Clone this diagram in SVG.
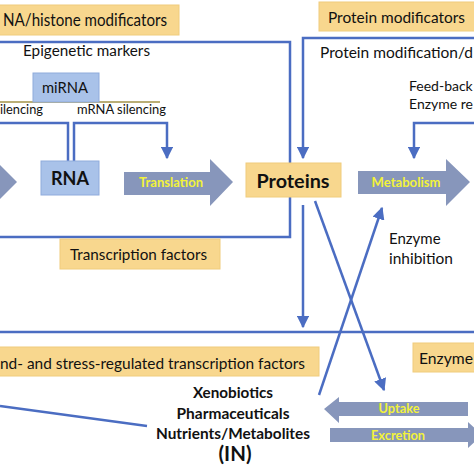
<svg xmlns="http://www.w3.org/2000/svg" width="474" height="474" viewBox="0 0 474 474">
<defs>
<style>
text{font-family:Lato,"Liberation Sans",sans-serif;fill:#111}
.ln{fill:none;stroke:#4b6dc2;stroke-width:2.5}
.yb{fill:#f8d78e;stroke:#f0cc7c;stroke-width:1}
.bb{fill:#a9c2e9;stroke:#8fabdc;stroke-width:1}
.ar{fill:#8796bb}
.at{fill:#f2f23a;font-weight:bold;font-size:13px;text-anchor:middle}
.b{font-weight:bold}
.t15{font-size:15px}
</style>
<marker id="ah" viewBox="0 0 10 10" refX="9" refY="5" markerWidth="5" markerHeight="5" orient="auto" markerUnits="strokeWidth">
<path d="M0,0 L10,5 L0,10 z" fill="#4b6dc2"/>
</marker>
</defs>
<rect width="474" height="474" fill="#fff"/>

<g id="connectors">
<path class="ln" d="M0,42 H290 V237 H0"/>
<path class="ln" d="M474,38 H303 V158" marker-end="url(#ah)"/>
<path class="ln" d="M0,123 H68 V161"/>
<path class="ln" d="M74,161 V123 H167 V158" marker-end="url(#ah)"/>
<path class="ln" d="M474,123 H414 V158" marker-end="url(#ah)"/>
<path class="ln" d="M303,205 V327" marker-end="url(#ah)"/>
<path class="ln" d="M315,201 L384,390" marker-end="url(#ah)"/>
<path class="ln" d="M319,395 L382,208" marker-end="url(#ah)"/>
<path class="ln" d="M0,332 H474"/>
<path class="ln" d="M0,406 L147,426"/>
<path d="M0,102 H160" stroke="#a39348" stroke-width="1.5" fill="none"/>
</g>

<g id="dna-histone-modificators">
<rect class="yb" x="-2" y="5" width="181" height="30"/>
<text x="3" y="26" font-size="17" textLength="164" lengthAdjust="spacingAndGlyphs">NA/histone modificators</text>
</g>
<g id="epigenetic-markers">
<text x="23" y="56" font-size="15.5" textLength="127" lengthAdjust="spacingAndGlyphs">Epigenetic markers</text>
</g>
<g id="mirna">
<rect class="bb" x="33" y="73" width="66" height="29"/>
<text x="65" y="93" font-size="16" text-anchor="middle" textLength="46" lengthAdjust="spacingAndGlyphs">miRNA</text>
</g>
<g id="silencing-left">
<text x="0" y="114" font-size="14" textLength="43" lengthAdjust="spacingAndGlyphs">ilencing</text>
</g>
<g id="mrna-silencing">
<text x="77" y="114" font-size="14" textLength="89" lengthAdjust="spacingAndGlyphs">mRNA silencing</text>
</g>
<g id="left-arrow">
<polygon class="ar" points="0,165 17,182 0,199"/>
</g>
<g id="rna">
<rect class="bb" x="41" y="161" width="58" height="34"/>
<text x="70" y="185" class="b" font-size="19" text-anchor="middle" textLength="38" lengthAdjust="spacingAndGlyphs">RNA</text>
</g>
<g id="translation">
<polygon class="ar" points="124,172 210,172 210,159 233,182 210,206 210,195 124,195"/>
<text x="171" y="187" class="at" textLength="64" lengthAdjust="spacingAndGlyphs">Translation</text>
</g>
<g id="proteins">
<rect class="yb" x="246" y="163" width="95" height="34"/>
<text x="293" y="188" class="b" font-size="19" text-anchor="middle" textLength="73" lengthAdjust="spacingAndGlyphs">Proteins</text>
</g>
<g id="metabolism">
<polygon class="ar" points="358,171 446,171 446,159 470,182 446,206 446,194 358,194"/>
<text x="406" y="187" class="at" textLength="69" lengthAdjust="spacingAndGlyphs">Metabolism</text>
</g>
<g id="protein-modificators">
<rect class="yb" x="319" y="2" width="160" height="29"/>
<text x="328" y="23" font-size="16" textLength="137" lengthAdjust="spacingAndGlyphs">Protein modificators</text>
</g>
<g id="protein-modification">
<text x="320" y="58" font-size="15.5" textLength="153" lengthAdjust="spacingAndGlyphs">Protein modification/d</text>
</g>
<g id="feedback">
<text x="409" y="91" font-size="14">Feed-back</text>
<text x="409" y="109" font-size="14">Enzyme re</text>
</g>
<g id="transcription-factors">
<rect class="yb" x="60" y="239" width="160" height="30"/>
<text x="70" y="260" font-size="16" textLength="137" lengthAdjust="spacingAndGlyphs">Transcription factors</text>
</g>
<g id="enzyme-inhibition">
<text x="389" y="244" class="t15">Enzyme</text>
<text x="389" y="264" class="t15" textLength="64" lengthAdjust="spacingAndGlyphs">inhibition</text>
</g>
<g id="stress-regulated-tf">
<rect class="yb" x="-2" y="347" width="321" height="29"/>
<text x="305" y="369" font-size="16" text-anchor="end" textLength="305" lengthAdjust="spacingAndGlyphs">nd- and stress-regulated transcription factors</text>
</g>
<g id="enzyme-right">
<rect class="yb" x="413" y="343" width="66" height="29"/>
<text x="419" y="364" font-size="16" textLength="54" lengthAdjust="spacingAndGlyphs">Enzyme</text>
</g>
<g id="inputs">
<text x="233" y="398" class="b t15" text-anchor="middle" textLength="80" lengthAdjust="spacingAndGlyphs">Xenobiotics</text>
<text x="233" y="419" class="b t15" text-anchor="middle" textLength="113" lengthAdjust="spacingAndGlyphs">Pharmaceuticals</text>
<text x="233" y="439" class="b t15" text-anchor="middle" textLength="154" lengthAdjust="spacingAndGlyphs">Nutrients/Metabolites</text>
<text x="235" y="461" class="b" font-size="20" text-anchor="middle" textLength="33" lengthAdjust="spacingAndGlyphs">(IN)</text>
</g>
<g id="uptake">
<polygon class="ar" points="468,402 339,402 339,397 324,409 339,423 339,416 468,416"/>
<text x="399" y="413" class="at" textLength="41" lengthAdjust="spacingAndGlyphs">Uptake</text>
</g>
<g id="excretion">
<polygon class="ar" points="330,428 468,428 468,422 482,435 468,448 468,442 330,442"/>
<text x="398" y="440" class="at" textLength="54" lengthAdjust="spacingAndGlyphs">Excretion</text>
</g>
</svg>
